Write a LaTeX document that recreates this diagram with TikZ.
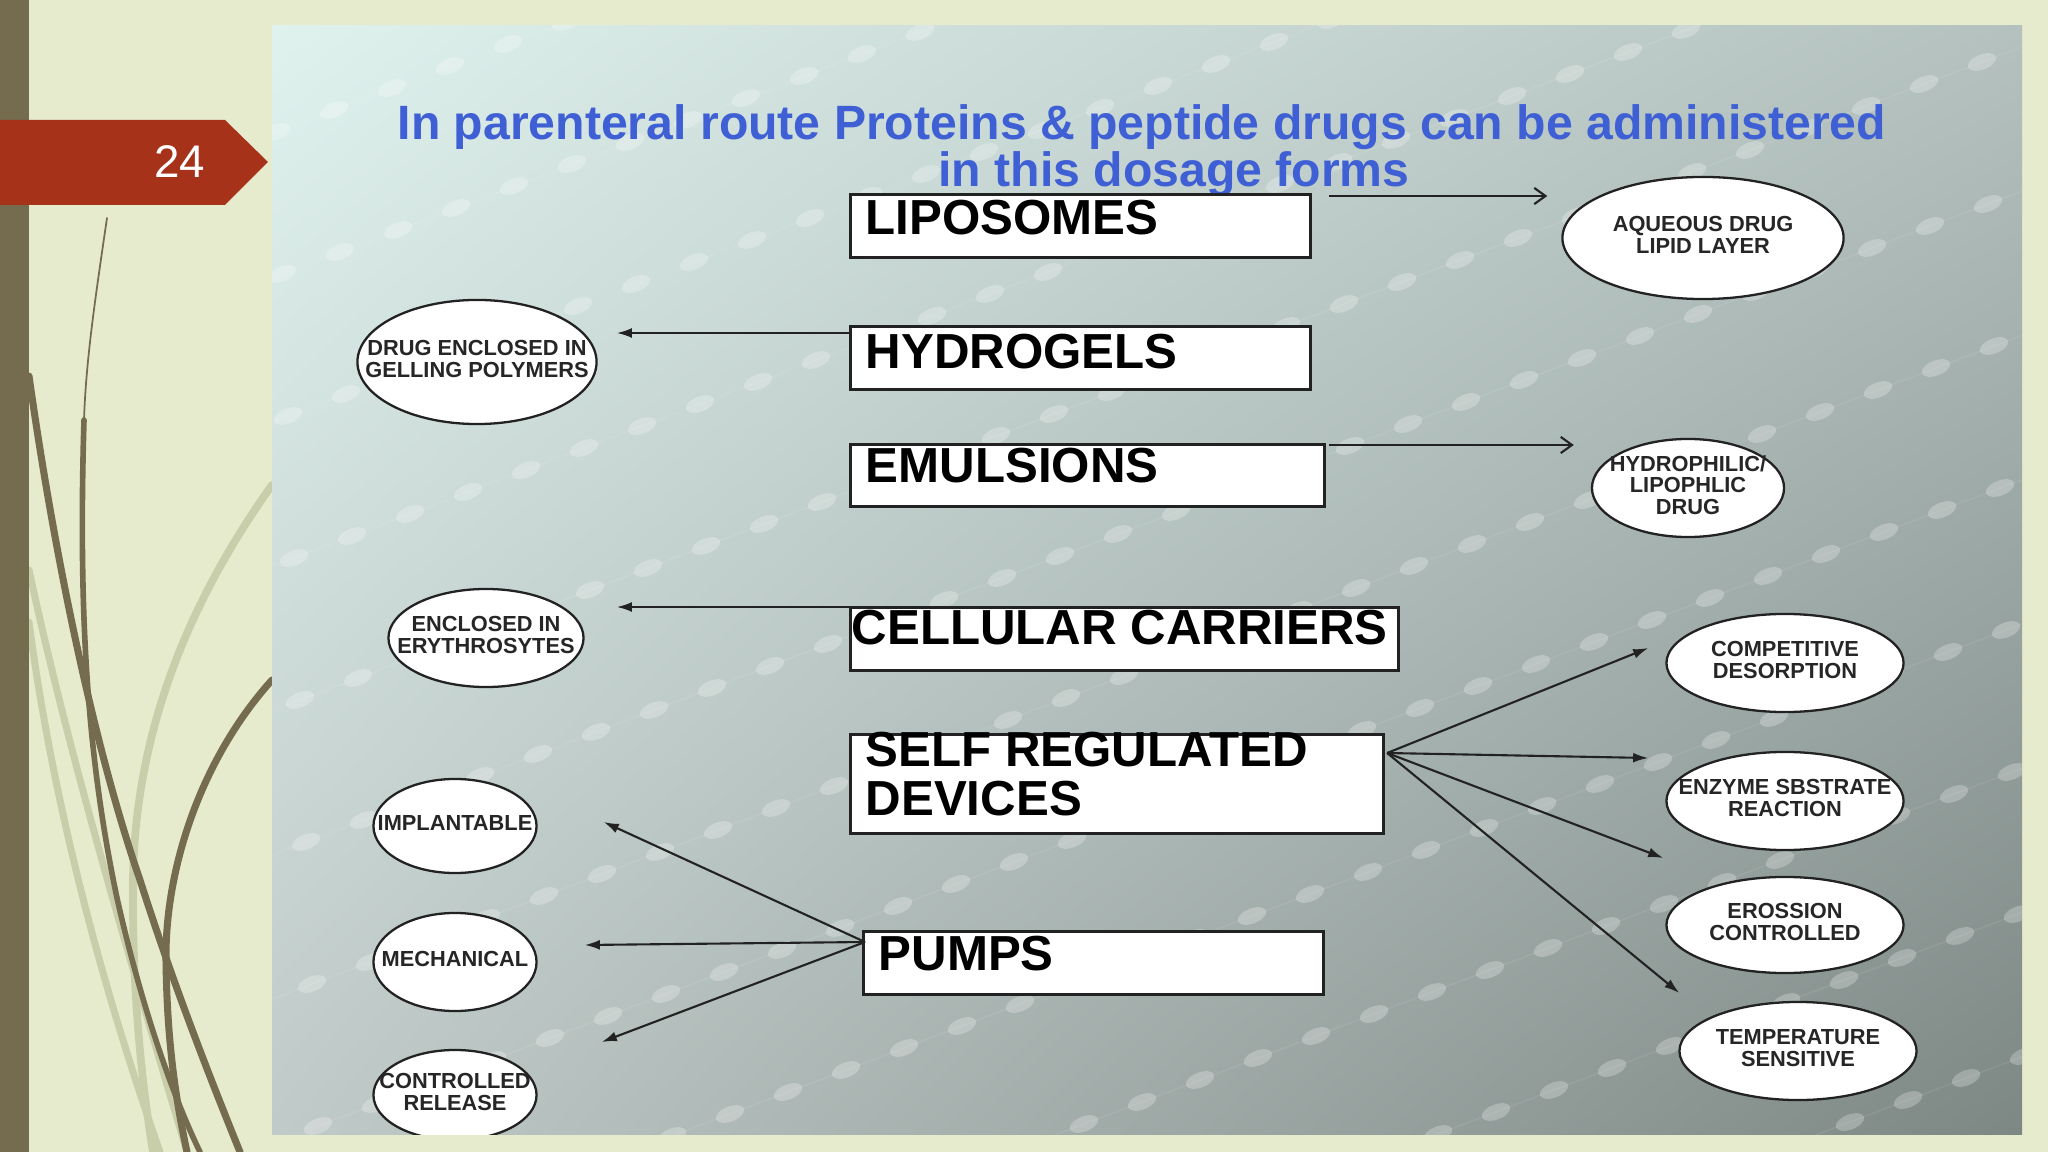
\documentclass[tikz,border=0pt]{standalone}
\usepackage{fontspec}
\setmainfont{Liberation Sans}
\usetikzlibrary{arrows.meta,shapes.geometric,calc,shadings}
\definecolor{bgcream}{HTML}{E6EBCD}
\definecolor{barolive}{HTML}{756B4F}
\definecolor{curvelight}{HTML}{C9CEAA}
\definecolor{tagred}{HTML}{A6321A}
\definecolor{titleblue}{HTML}{3F5FD5}
\definecolor{slideTL}{HTML}{DFF2EE}
\definecolor{slideTR}{HTML}{B4C1BE}
\definecolor{slideBL}{HTML}{C0CAC8}
\definecolor{slideBR}{HTML}{7D8885}
\definecolor{inkline}{HTML}{222222}
\newcommand\etxt[1]{\makebox[0pt]{\begin{tabular}{@{}c@{}}#1\end{tabular}}}
\tikzset{
  stepbox/.style={draw=inkline, line width=0.8pt, fill=white, rectangle, inner sep=0pt, anchor=north west},
  boxtext/.style={font=\fontsize{14}{15}\selectfont\bfseries, text=black, inner sep=0pt, anchor=base west},
  oval/.style={draw=inkline, line width=0.65pt, fill=white, ellipse, inner sep=0pt,
    font=\fontsize{6.2}{6.1}\selectfont\bfseries, text=black!85},
  filledarr/.style={draw=inkline, line width=0.6pt, -{Latex[length=4.3pt,width=2.8pt]}},
  openarr/.style={draw=inkline, line width=0.6pt, -{Straight Barb[length=3.2pt,width=4.6pt]}},
  titletext/.style={font=\fontsize{13.7}{14}\selectfont\bfseries, text=titleblue, inner sep=0pt, anchor=base},
  darkcurve/.style={draw=barolive, line cap=round},
  lightcurve/.style={draw=curvelight, line cap=round},
  blob/.style={fill=white, fill opacity=0.25},
  blobline/.style={draw=white, draw opacity=0.08, line width=0.4pt}
}
\begin{document}
\begin{tikzpicture}[x=0.01cm,y=-0.01cm]
\useasboundingbox (0,0) rectangle (2048,1152);
% page background
\fill[bgcream] (0,0) rectangle (2048,1152);
% decorative curves
\draw[lightcurve, line width=2.2pt] (272,485) .. controls (190,600) and (135,730) .. (133,880) .. controls (132,1000) and (143,1090) .. (153,1152);
\draw[lightcurve, line width=2pt] (29,570) .. controls (70,760) and (130,960) .. (187,1152);
\draw[lightcurve, line width=2pt] (29,622) .. controls (55,820) and (110,1010) .. (160,1152);
\draw[darkcurve, line width=0.5pt] (107,218) .. controls (95,300) and (86,360) .. (84,420);
\draw[darkcurve, line width=1.6pt] (84,420) .. controls (78,620) and (88,760) .. (117,898) .. controls (140,1000) and (170,1090) .. (200,1152);
\draw[darkcurve, line width=2pt] (29,376) .. controls (55,560) and (95,750) .. (140,880) .. controls (175,990) and (215,1090) .. (240,1152);
\draw[darkcurve, line width=2pt] (272,680) .. controls (200,760) and (165,870) .. (166,960) .. controls (167,1050) and (178,1110) .. (187,1152);
% left bar
\fill[barolive] (0,0) rectangle (29,1152);
% slide picture
\shade[upper left=slideTL, upper right=slideTR, lower left=slideBL, lower right=slideBR] (272,26) rectangle (2022,1134);
\begin{scope}
\clip (272,26) rectangle (2022,1134);
% background dot texture
\foreach \j in {-5,...,8}{
  \draw[blobline] ({300-58*9+180*\j},{700+22*9+76*\j}) -- ({300+58*30+180*\j},{700-22*30+76*\j});
  \foreach \i in {-9,...,30}{
    \fill[blob, rotate around={21:({300+58*\i+180*\j},{700-22*\i+76*\j})}] ({300+58*\i+180*\j},{700-22*\i+76*\j}) ellipse [x radius=0.15cm, y radius=0.075cm];
  }
}
% title
\node[titletext] (title1) at (1142,140) {In parenteral route Proteins \& peptide drugs can be administered};
\node[titletext] (title2) at (1174,187) {in this dosage forms};
% central boxes
\node[stepbox, minimum width=4.60cm, minimum height=0.63cm] (lip) at (849,193) {};
\node[stepbox, minimum width=4.60cm, minimum height=0.63cm] (hyd) at (849,325) {};
\node[stepbox, minimum width=4.74cm, minimum height=0.62cm] (emu) at (849,443) {};
\node[stepbox, minimum width=5.48cm, minimum height=0.63cm] (cel) at (849,606) {};
\node[stepbox, minimum width=5.33cm, minimum height=0.99cm] (sel) at (849,733) {};
\node[stepbox, minimum width=4.60cm, minimum height=0.63cm] (pum) at (862,930) {};
\node[boxtext] (lipT) at (865,235) {LIPOSOMES};
\node[boxtext] (hydT) at (865,369) {HYDROGELS};
\node[boxtext] (emuT) at (865,483) {EMULSIONS};
\node[boxtext] (celT) at (851,645) {CELLULAR CARRIERS};
\node[boxtext] (selT) at (865,766) {SELF REGULATED};
\node[boxtext] (selT2) at (865,815) {DEVICES};
\node[boxtext] (pumT) at (878,970) {PUMPS};
% ellipses
\node[oval, minimum width=2.81cm, minimum height=1.22cm] (aq) at (1703,238) {\etxt{AQUEOUS DRUG\\LIPID LAYER}};
\node[oval, minimum width=2.39cm, minimum height=1.24cm] (dec) at (477,362) {\etxt{DRUG ENCLOSED IN\\GELLING POLYMERS}};
\node[oval, minimum width=1.92cm, minimum height=0.98cm] (hyp) at (1688,488) {\etxt{HYDROPHILIC/\\LIPOPHLIC\\DRUG}};
\node[oval, minimum width=1.95cm, minimum height=0.98cm] (ery) at (486,638) {\etxt{ENCLOSED IN\\ERYTHROSYTES}};
\node[oval, minimum width=2.37cm, minimum height=0.98cm] (comp) at (1785,663) {\etxt{COMPETITIVE\\DESORPTION}};
\node[oval, minimum width=2.37cm, minimum height=0.98cm] (enz) at (1785,801) {\etxt{ENZYME SBSTRATE\\REACTION}};
\node[oval, minimum width=2.37cm, minimum height=0.96cm] (ero) at (1785,925) {\etxt{EROSSION\\CONTROLLED}};
\node[oval, minimum width=2.37cm, minimum height=0.98cm] (tmp) at (1798,1051) {\etxt{TEMPERATURE\\SENSITIVE}};
\node[oval, minimum width=1.63cm, minimum height=0.94cm] (imp) at (455,826) {\etxt{IMPLANTABLE}};
\node[oval, minimum width=1.63cm, minimum height=0.98cm] (mech) at (455,962) {\etxt{MECHANICAL}};
\node[oval, minimum width=1.63cm, minimum height=0.90cm] (ctl) at (455,1095) {\etxt{CONTROLLED\\RELEASE}};
% connectors
\draw[openarr] ([shift={(17,3)}]lip.north east) -- ([shift={(-14,-42)}]aq.west);
\draw[filledarr] ([shift={(0,8)}]hyd.north west) -- ([shift={(19,-29)}]dec.east);
\draw[openarr] ([shift={(3,2)}]emu.north east) -- ([shift={(-17,-43)}]hyp.west);
\draw[filledarr] ([shift={(0,1)}]cel.north west) -- ([shift={(32,-31)}]ery.east);
\coordinate (selO) at ([shift={(2,20)}]sel.north east);
\draw[filledarr] (selO) -- ([shift={(-17,-15)}]comp.west);
\draw[filledarr] (selO) -- ([shift={(-17,-43)}]enz.west);
\draw[filledarr] (selO) -- ([shift={(-2,-67)}]ero.west);
\draw[filledarr] (selO) -- ([shift={(1,-58)}]tmp.west);
\coordinate (pumO) at ([shift={(3,12)}]pum.north west);
\draw[filledarr] (pumO) -- ([shift={(66,-4)}]imp.east);
\draw[filledarr] (pumO) -- ([shift={(47,-17)}]mech.east);
\draw[filledarr] (pumO) -- ([shift={(64,-53)}]ctl.east);
\end{scope}
% page number tag
\fill[tagred] (0,120) -- (225,120) -- (268,162) -- (225,205) -- (0,205) -- cycle;
\node[font=\fontsize{13}{13}\selectfont, text=white, inner sep=0pt] (pagenum) at (180,162) {24};
\end{tikzpicture}
\end{document}
